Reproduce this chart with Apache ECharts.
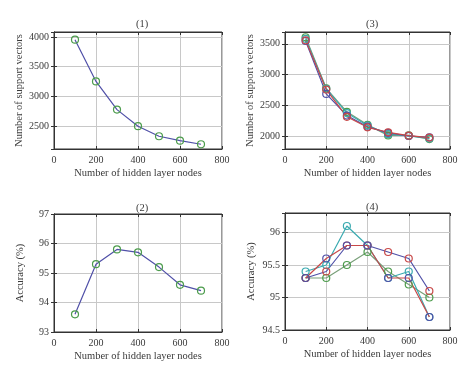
<!DOCTYPE html>
<html><head><meta charset="utf-8">
<script src="https://cdn.jsdelivr.net/npm/echarts@6/dist/echarts.min.js"></script>
<style>html,body{margin:0;padding:0;background:#fff}#c{width:474px;height:379px}</style>
</head><body><div id="c"></div>
<script>
const nodes = [100, 200, 300, 400, 500, 600, 700];
const xTicks = [0, 200, 400, 600, 800];
// Panel (1)
const sv1 = [3955, 3250, 2775, 2495, 2325, 2250, 2190];
// Panel (2)
const acc2 = [93.6, 95.3, 95.8, 95.7, 95.2, 94.6, 94.4];
// Panel (3)
const sv3Blue = [3545, 2690, 2340, 2160, 2060, 2010, 1990];
const sv3Red = [3555, 2760, 2320, 2150, 2070, 2015, 1985];
const sv3Green = [3605, 2780, 2400, 2190, 2020, 2020, 1960];
const sv3Cyan = [3580, 2770, 2380, 2180, 2040, 2010, 1970];
// Panel (4)
const acc4A = [95.3, 95.4, 95.8, 95.8, 95.7, 95.6, 95.1];
const acc4B = [95.3, 95.6, 95.8, 95.8, 95.3, 95.3, 94.7];
const acc4Cyan = [95.4, 95.5, 96.1, 95.8, 95.3, 95.4, 94.7];
const acc4Green = [95.3, 95.3, 95.5, 95.7, 95.4, 95.2, 95.0];

const FONT = 'Liberation Serif';
const TXT = '#3a3a3a';
const BLUE = '#5050a8', RED = '#c84848', GREEN = '#4c9c4c', CYAN = '#3aaab0', GRAYG = '#7aa07a';
const pair = ys => nodes.map((x, i) => [x, ys[i]]);

const grids = [
  {left: 54, top: 32, width: 168, height: 117},
  {left: 54, top: 214, width: 168, height: 118},
  {left: 285, top: 32, width: 165, height: 117},
  {left: 285, top: 213, width: 165, height: 117}
];
const yCfg = [
  {min: 2110, max: 4085, split: 4, name: 'Number of support vectors', edge: false},
  {min: 93, max: 97, interval: 1, name: 'Accuracy (%)', edge: true},
  {min: 1800, max: 3690, split: 4, name: 'Number of support vectors', edge: false},
  {min: 94.5, max: 96.3, interval: 0.5, name: 'Accuracy (%)', edge: 'min'}
];
const xAxis = [], yAxis = [];
grids.forEach((g, i) => {
  xAxis.push({type: 'value', gridIndex: i, min: 0, max: 800, interval: 200,
    name: 'Number of hidden layer nodes', nameLocation: 'middle', nameGap: 19,
    nameTextStyle: {fontFamily: FONT, fontSize: 10.5, color: TXT},
    axisLine: {show: true, lineStyle: {color: '#333'}},
    axisTick: {inside: true, length: 3, lineStyle: {color: '#333'}},
    axisLabel: {fontFamily: FONT, fontSize: 10, color: TXT, margin: 6},
    splitLine: {show: true, lineStyle: {color: '#c8c8c8', width: 1}}});
  xAxis.push({type: 'value', gridIndex: i, position: 'top', min: 0, max: 800, interval: 200,
    axisLine: {show: true, lineStyle: {color: '#333'}},
    axisTick: {inside: true, length: 3, lineStyle: {color: '#333'}},
    axisLabel: {show: false}, splitLine: {show: false}});
  const c = yCfg[i];
  const base = {type: 'value', gridIndex: i, min: c.min, max: c.max};
  if (c.interval) base.interval = c.interval; else base.splitNumber = c.split;
  yAxis.push(Object.assign({}, base, {
    name: c.name, nameLocation: 'middle', nameGap: 28,
    nameTextStyle: {fontFamily: FONT, fontSize: 10.5, color: TXT},
    axisLine: {show: true, lineStyle: {color: '#333'}},
    axisTick: {inside: true, length: 3, lineStyle: {color: '#333'}},
    axisLabel: {fontFamily: FONT, fontSize: 10, color: TXT, margin: 5,
      showMinLabel: c.edge === true || c.edge === 'min', showMaxLabel: c.edge === true,
      formatter: v => String(v)},
    splitLine: {show: true, lineStyle: {color: '#c8c8c8', width: 1}}}));
  yAxis.push(Object.assign({}, base, {position: 'right',
    axisLine: {show: true, lineStyle: {color: '#333'}},
    axisTick: {inside: true, length: 3, lineStyle: {color: '#333'}},
    axisLabel: {show: false}, splitLine: {show: false}}));
});
function line(gi, ys, lineColor, markColor) {
  return {type: 'line', xAxisIndex: gi * 2, yAxisIndex: gi * 2, data: pair(ys),
    symbol: 'circle', symbolSize: 7, showAllSymbol: true,
    lineStyle: {color: lineColor, width: 1.2},
    itemStyle: {color: 'rgba(0,0,0,0)', borderColor: markColor, borderWidth: 1.2},
    emphasis: {disabled: true}, animation: false};
}
const option = {
  animation: false,
  title: [
    {text: '(1)', left: 137, top: 14},
    {text: '(2)', left: 137, top: 198},
    {text: '(3)', left: 367, top: 14},
    {text: '(4)', left: 367, top: 197}
  ].map(t => Object.assign(t, {textAlign: 'center', textStyle: {fontFamily: FONT, fontSize: 10.5, fontWeight: 'normal', color: TXT}})),
  grid: grids.map(g => Object.assign({show: true, borderColor: '#333', borderWidth: 1, backgroundColor: '#fff'}, g)),
  xAxis, yAxis,
  series: [
    line(0, sv1, BLUE, GREEN),
    line(1, acc2, BLUE, GREEN),
    line(2, sv3Green, GRAYG, GREEN),
    line(2, sv3Cyan, CYAN, CYAN),
    line(2, sv3Blue, BLUE, BLUE),
    line(2, sv3Red, RED, RED),
    line(3, acc4Green, GRAYG, GREEN),
    line(3, acc4Cyan, CYAN, CYAN),
    line(3, acc4A, BLUE, RED),
    line(3, acc4B, RED, BLUE)
  ]
};
const chart = echarts.init(document.getElementById('c'), null, {renderer: 'canvas'});
chart.setOption(option);
</script></body></html>
